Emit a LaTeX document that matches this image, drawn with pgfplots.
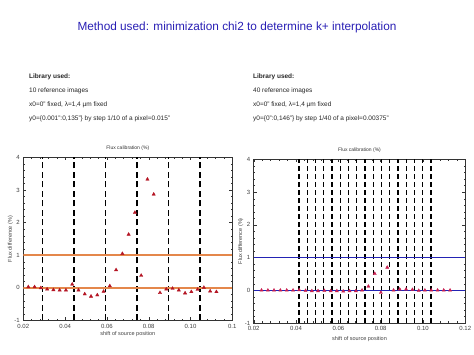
\documentclass[border=0pt]{standalone}
\usepackage{fontspec}
\setmainfont{Liberation Sans}
\usepackage{pgfplots}
\usepackage{pgfplotstable}
\pgfplotsset{compat=1.18}
\definecolor{titleblue}{RGB}{40,30,180}
\definecolor{lineorange}{RGB}{228,135,75}
\definecolor{lineblue}{RGB}{35,35,180}
\definecolor{mkred}{RGB}{180,20,35}
\definecolor{mkmag}{RGB}{200,30,80}

\pgfplotstableread{
x y
0.0224 0.03
0.0254 0.03
0.0284 0.00
0.0314 -0.04
0.0344 -0.06
0.0374 -0.07
0.0404 -0.07
0.0434 0.11
0.0464 -0.07
0.0494 -0.19
0.0524 -0.26
0.0554 -0.22
0.0584 -0.11
0.0614 0.06
0.0644 0.55
0.0674 1.05
0.0704 1.64
0.0734 2.31
0.0764 0.38
0.0794 3.33
0.0824 2.87
0.0854 -0.15
0.0884 -0.04
0.0914 -0.02
0.0944 -0.07
0.0974 -0.16
0.1004 -0.12
0.1034 -0.05
0.1064 0.01
0.1094 -0.10
0.1124 -0.12
}\leftdata

\pgfplotstableread{
x y
0.0237 0.00
0.0267 0.00
0.0296 0.00
0.0326 0.00
0.0356 0.00
0.0386 0.00
0.0415 0.01
0.0445 -0.01
0.0475 -0.02
0.0504 -0.02
0.0534 -0.01
0.0564 -0.02
0.0593 -0.02
0.0623 -0.03
0.0653 -0.02
0.0683 -0.02
0.0712 0.00
0.0742 0.12
0.0772 0.51
0.0801 -0.07
0.0831 0.70
0.0861 0.00
0.0890 0.03
0.0920 0.03
0.0950 0.02
0.0980 -0.01
0.1009 0.00
0.1039 0.00
0.1069 0.00
0.1098 0.00
0.1128 0.00
}\rightdata

\pgfplotsset{
  idl/.style={
    scale only axis,
    xmin=0.02, xmax=0.12, ymin=-1, ymax=4,
    xtick={0.02,0.04,0.06,0.08,0.10,0.12},
    ytick={-1,0,1,2,3,4},
    minor x tick num=4, minor y tick num=4,
    tick align=inside,
    major tick length=3pt, minor tick length=1.5pt,
    tick style={black!80, line width=0.4pt},
    axis line style={black!80, line width=0.5pt},
    ticklabel style={font=\fontsize{6}{7}\selectfont, text=black!75},
    /pgf/number format/assume math mode=true,
    xticklabel style={/pgf/number format/.cd, fixed, fixed zerofill, precision=2},
    yticklabel style={/pgf/number format/.cd, fixed, precision=0},
    title={Flux calibration (\%)},
    title style={font=\fontsize{5}{6}\selectfont, text=black!80, at={(axis description cs:0.5,1)}, anchor=south, yshift=-0.5pt, inner sep=1pt},
    xlabel={shift of source position},
    ylabel={Flux difference (\%)},
    label style={font=\fontsize{5.5}{6.5}\selectfont, text=black!75},
    ylabel style={at={(axis description cs:-0.062,0.5)}, anchor=center},
    clip=true,
  }
}

\begin{document}
\begin{tikzpicture}[x=1pt,y=1pt]
\useasboundingbox (0,0) rectangle (474,355);

\node[text=titleblue, font=\fontsize{11.8}{14}\selectfont, anchor=center] at (237,328) {Method used: minimization chi2 to determine k+ interpolation};

\begin{scope}[font=\fontsize{6.5}{8}\selectfont, text=black!85]
\node[anchor=base west, inner sep=0] at (29,276) {\textbf{Library used:}};
\node[anchor=base west, inner sep=0] at (29,262) {10 reference images};
\node[anchor=base west, inner sep=0] at (29,248) {x0=0" fixed, λ=1,4 µm fixed};
\node[anchor=base west, inner sep=0] at (29,234) {y0=\{0.001":0,135"\} by step 1/10 of a pixel=0.015"};
\node[anchor=base west, inner sep=0] at (253,276) {\textbf{Library used:}};
\node[anchor=base west, inner sep=0] at (253,262) {40 reference images};
\node[anchor=base west, inner sep=0] at (253,248) {x0=0" fixed, λ=1,4 µm fixed};
\node[anchor=base west, inner sep=0] at (253,234) {y0=\{0":0,146"\} by step 1/40 of a pixel=0.00375"};
\end{scope}

\begin{axis}[idl,
  at={(23.3pt,34.5pt)}, anchor=south west,
  width=209pt, height=163pt,
  xticklabels={0.02,0.04,0.06,0.08,0.10,0.1},
  xlabel style={at={(axis description cs:0.5,-0.085)}, anchor=center},
]
\pgfplotsinvokeforeach{0.0291,0.0442,0.0593,0.0744,0.0895,0.1046}{
  \addplot[black, line width=1.3pt, dash pattern=on 6pt off 3.5pt, forget plot] coordinates {(#1,-1) (#1,4)};
}
\addplot[lineorange, line width=1.8pt, forget plot] coordinates {(0.02,0) (0.12,0)};
\addplot[lineorange, line width=1.8pt, forget plot] coordinates {(0.02,1) (0.12,1)};
\addplot[only marks, mark=triangle*, mark size=1.9pt, mark options={fill=mkred, draw=mkred}] table[x=x,y=y] {\leftdata};
\end{axis}

\begin{axis}[idl,
  at={(253.7pt,32pt)}, anchor=south west,
  width=211.6pt, height=163.5pt,
  xlabel style={at={(axis description cs:0.5,-0.097)}, anchor=center},
]
\pgfplotsinvokeforeach{0.0414,0.0453,0.0492,0.0531,0.0570,0.0609,0.0648,0.0687,0.0726,0.0765,0.0804,0.0843,0.0882,0.0921,0.0960,0.0999,0.1038}{
  \addplot[black, line width=1.1pt, dash pattern=on 5pt off 3pt, forget plot] coordinates {(#1,-1) (#1,4)};
}
\addplot[lineblue, line width=1.2pt, forget plot] coordinates {(0.02,0) (0.12,0)};
\addplot[lineblue, line width=1.2pt, forget plot] coordinates {(0.02,1) (0.12,1)};
\addplot[only marks, mark=triangle*, mark size=1.8pt, mark options={fill=mkmag, draw=mkmag}] table[x=x,y=y] {\rightdata};
\end{axis}
\end{tikzpicture}
\end{document}
